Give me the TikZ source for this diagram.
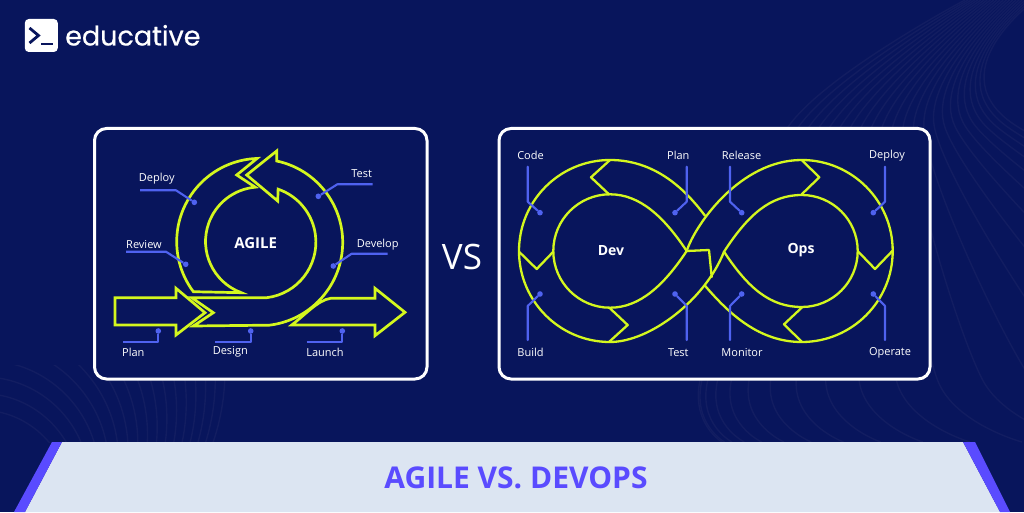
\documentclass[tikz,border=0pt]{standalone}
\usepackage{fontspec}
\setmainfont{Open Sans}
\newfontfamily\logofont[FakeBold=0.5]{Poppins}
\definecolor{navy}{HTML}{08155C}
\definecolor{wave}{HTML}{121D61}
\definecolor{lime}{HTML}{D4F71E}
\definecolor{leader}{HTML}{4F62F0}
\definecolor{band}{HTML}{DCE5F2}
\definecolor{violet}{HTML}{5A4BFF}
\tikzset{
  frame/.style={draw=white,line width=3pt,rounded corners=12pt,fill=navy},
  limeline/.style={draw=lime,line width=2.7pt,line join=miter,miter limit=6},
  limethin/.style={draw=lime,line width=2.3pt,line join=round,line cap=round},
  lead/.style={draw=leader,line width=2.1pt,line join=round},
  tag/.style={text=white,font=\fontsize{11}{12}\selectfont,inner sep=0pt},
  dotend/.style={circle,fill=leader,inner sep=0pt,minimum size=5.6pt},
  waveline/.style={draw=wave,line width=1.4pt},
}
\begin{document}
\begin{tikzpicture}[x=1pt,y=1pt]
\useasboundingbox (0,0) rectangle (1024,512);
\fill[navy] (0,0) rectangle (1024,512);
\begin{scope}[shift={(0,512)}]
% faint background waves
\begin{scope}
\clip (0,0) rectangle (1024,-442);
\foreach \i in {0,...,22}{
  \pgfmathsetmacro{\t}{\i/22}
  \pgfmathsetmacro{\xa}{965+70*\t}
  \pgfmathsetmacro{\xb}{788+230*\t}
  \pgfmathsetmacro{\xc}{700+950*\t*\t}
  \pgfmathsetmacro{\xd}{722+1200*\t*\t}
  \draw[waveline] plot[smooth] coordinates {(\xa,0) (\xb,-127) (\xc,-380) (\xd,-442)};
}
\end{scope}
\begin{scope}
\clip (0,-365) rectangle (240,-442);
\foreach \i in {0,...,16}{
  \pgfmathsetmacro{\t}{\i/16}
  \pgfmathsetmacro{\cx}{-20+20*\t}
  \pgfmathsetmacro{\cy}{500-130*\t}
  \pgfmathsetmacro{\rr}{90+135*\t}
  \draw[waveline] (\cx,-\cy) circle[radius=\rr];
}
\end{scope}
% title band
\fill[band] (62,-442) -- (963,-442) -- (1000,-512) -- (25,-512) -- cycle;
\fill[violet] (52,-442) -- (62,-442) -- (25,-512) -- (14,-512) -- cycle;
\fill[violet] (963,-442) -- (975,-442) -- (1010,-512) -- (1000,-512) -- cycle;
\node[text=violet,font=\fontsize{30}{34}\bfseries\selectfont,inner sep=0pt] (title) at (516,-478) {AGILE VS. DEVOPS};
% logo
\node[fill=white,rounded corners=4pt,minimum size=33pt,inner sep=0pt] (logo) at (41.3,-35.5) {};
\draw[navy,line width=2.8pt,line join=miter] (29.5,-28) -- (38.5,-35.5) -- (29.5,-43);
\draw[navy,line width=2.6pt] (41,-44) -- (53,-44);
\node[text=white,font=\logofont\fontsize{27}{30}\selectfont,anchor=base west,inner sep=0pt] (brand) at (65,-45.5) {educative};
% frames
\draw[frame] (94.5,-128.5) rectangle (427,-379);
\draw[frame] (499,-128.5) rectangle (930,-379);
\node[text=white,font=\fontsize{35}{38}\selectfont,inner sep=0pt] (vs) at (462,-257) {VS};
% AGILE
\draw[limeline] (257.1,-158.45) arc[start angle=92,end angle=216.9,radius=83.3]
  -- (241.4,-292.7) arc[start angle=250,end angle=95,radius=54.5]
  -- (236.7,-175) -- cycle;
\draw[limeline] (246.7,-175) -- (276.7,-151) -- (276.7,-161)
  arc[start angle=78,end angle=-83,radius=83.3] -- (193.3,-326) -- (213.3,-312.7) -- (191.7,-297.7)
  -- (266.7,-297.7) arc[start angle=-83,end angle=71,radius=56] -- (277.7,-201) -- cycle;
\draw[limeline] (115,-297.7) -- (176,-297.7) -- (176,-288.3) -- (205,-312.7) -- (176,-335) -- (176,-325) -- (115,-325) -- cycle;
\draw[limeline] (291.7,-325) -- (375,-325) -- (375,-335.7) -- (405,-312.3) -- (375,-288.3) -- (375,-298.3) -- (330.7,-298.3) .. controls (318,-300) and (305,-315) .. cycle;
\node[text=white,font=\fontsize{15}{17}\bfseries\selectfont,inner sep=0pt] (agile) at (255.7,-243.5) {AGILE};
% agile leaders
\node[dotend] (d1) at (194.3,-202.3) {};
\coordinate (d1a) at (140,-190.3); \coordinate (d1b) at (176,-190.3);
\draw[lead] (d1a) -- (d1b) -- (d1);
\node[dotend] (d2) at (185.7,-264.3) {};
\coordinate (d2a) at (126,-251.7); \coordinate (d2b) at (166,-251.7);
\draw[lead] (d2a) -- (d2b) -- (d2);
\node[dotend] (d3) at (318.3,-196.3) {};
\coordinate (d3a) at (372.7,-184.3); \coordinate (d3b) at (337.3,-184.3);
\draw[lead] (d3a) -- (d3b) -- (d3);
\node[dotend] (d4) at (333.3,-266) {};
\coordinate (d4a) at (387.7,-253.7); \coordinate (d4b) at (351.7,-253.7);
\draw[lead] (d4a) -- (d4b) -- (d4);
\node[dotend] (d5) at (158.3,-331) {};
\coordinate (d5a) at (123.3,-342.3); \coordinate (d5b) at (158.3,-342.3);
\draw[lead] (d5a) -- (d5b) -- (d5);
\node[dotend] (d6) at (250.7,-331) {};
\coordinate (d6a) at (215,-342.3); \coordinate (d6b) at (250.7,-342.3);
\draw[lead] (d6a) -- (d6b) -- (d6);
\node[dotend] (d7) at (342.3,-331) {};
\coordinate (d7a) at (306.7,-342.3); \coordinate (d7b) at (342.3,-342.3);
\draw[lead] (d7a) -- (d7b) -- (d7);
\node[tag] (t1) at (156.7,-179) {Deploy};
\node[tag] (t2) at (144,-244.5) {Review};
\node[tag] (t3) at (361.7,-174) {Test};
\node[tag] (t4) at (377.7,-244.5) {Develop};
\node[tag] (t5) at (133.3,-352.2) {Plan};
\node[tag] (t6) at (230.3,-352.2) {Design};
\node[tag] (t7) at (325,-352.2) {Launch};
% DEVOPS infinity
\draw[limethin] (610,-194.3) arc[start angle=90,end angle=270,radius=56.7]
  .. controls (640,-307.7) and (664,-285) .. (686.7,-251)
  .. controls (664,-217) and (640,-194.3) .. (610,-194.3);
\draw[limethin] (801.7,-195) arc[start angle=90,end angle=-90,radius=56]
  .. controls (770,-307) and (748,-288) .. (724,-251.7)
  .. controls (748,-215) and (770,-195) .. (801.7,-195);
\draw[limethin] (705,-215.7) .. controls (690,-196) and (660,-160) .. (610,-160)
  arc[start angle=90,end angle=270,radius=91]
  .. controls (650,-342) and (705,-300) .. (724,-251.7);
\draw[limethin] (686.7,-251) .. controls (695,-225) and (740,-160) .. (801.7,-160)
  arc[start angle=90,end angle=-90,radius=91]
  .. controls (760,-342) and (730,-315) .. (705,-285.7);
\draw[limethin] (686.7,-251) -- (709,-250) -- (711.7,-277);
% notches
\draw[limethin] (610,-160) -- (591,-177.3) -- (609,-194.3);
\draw[limethin] (519,-251.7) -- (536.7,-269) -- (553.3,-251.7);
\draw[limethin] (609.3,-307.7) -- (627.7,-325) -- (609.3,-341.7);
\draw[limethin] (801.7,-160) -- (819.3,-177.3) -- (801.7,-194.3);
\draw[limethin] (858.3,-251.7) -- (875,-269) -- (892.3,-251);
\draw[limethin] (801.7,-307.7) -- (784,-324.3) -- (801.7,-341.7);
% devops leaders
\node[dotend] (e1) at (540,-212.7) {};
\coordinate (e1a) at (527.7,-166.7); \coordinate (e1b) at (527.7,-201.7);
\draw[lead,line cap=round] (e1a) -- (e1b) -- (e1);
\node[dotend] (e2) at (675,-212.7) {};
\coordinate (e2a) at (686.7,-166.7); \coordinate (e2b) at (686.7,-201.7);
\draw[lead,line cap=round] (e2a) -- (e2b) -- (e2);
\node[dotend] (e3) at (540,-294) {};
\coordinate (e3a) at (527.7,-340); \coordinate (e3b) at (527.7,-306);
\draw[lead,line cap=round] (e3a) -- (e3b) -- (e3);
\node[dotend] (e4) at (675,-294) {};
\coordinate (e4a) at (686.7,-340); \coordinate (e4b) at (686.7,-306);
\draw[lead,line cap=round] (e4a) -- (e4b) -- (e4);
\node[dotend] (e5) at (741.7,-212.7) {};
\coordinate (e5a) at (730,-166.7); \coordinate (e5b) at (730,-201.7);
\draw[lead,line cap=round] (e5a) -- (e5b) -- (e5);
\node[dotend] (e6) at (873.3,-212.7) {};
\coordinate (e6a) at (885,-166.7); \coordinate (e6b) at (885,-201.7);
\draw[lead,line cap=round] (e6a) -- (e6b) -- (e6);
\node[dotend] (e7) at (741.7,-294) {};
\coordinate (e7a) at (730,-340); \coordinate (e7b) at (730,-306);
\draw[lead,line cap=round] (e7a) -- (e7b) -- (e7);
\node[dotend] (e8) at (873.3,-294) {};
\coordinate (e8a) at (885,-340); \coordinate (e8b) at (885,-306);
\draw[lead,line cap=round] (e8a) -- (e8b) -- (e8);
\node[tag] (u1) at (530.5,-155.5) {Code};
\node[tag] (u2) at (678.3,-155.5) {Plan};
\node[tag] (u3) at (741.5,-155.5) {Release};
\node[tag] (u4) at (887,-155.5) {Deploy};
\node[tag] (u5) at (530.5,-352.5) {Build};
\node[tag] (u6) at (678.3,-352.5) {Test};
\node[tag] (u7) at (742,-352.5) {Monitor};
\node[tag] (u8) at (890,-352.5) {Operate};
\node[text=white,font=\fontsize{14}{16}\bfseries\selectfont,inner sep=0pt] (dev) at (611,-250.5) {Dev};
\node[text=white,font=\fontsize{14}{16}\bfseries\selectfont,inner sep=0pt] (ops) at (801,-250.5) {Ops};
\end{scope}
\end{tikzpicture}
\end{document}
